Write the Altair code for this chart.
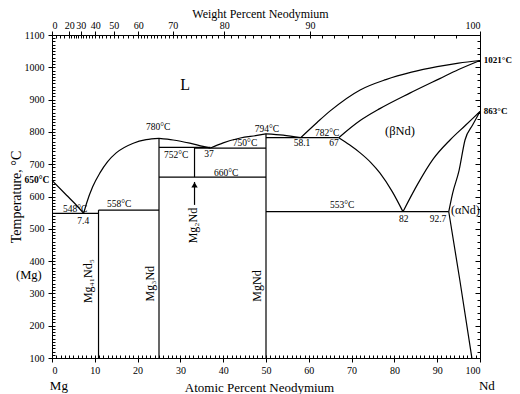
import altair as alt
import pandas as pd

M_MG, M_ND = 24.305, 144.24


def wt_to_at(w):
    if w >= 100:
        return 100.0
    n = w / M_ND
    m = (100 - w) / M_MG
    return 100 * n / (n + m)


# ---------------- phase boundaries (atomic % Nd, temperature °C) ----------------
liq_mg_x = [0, 3.4, 5.5, 7.4]
liq_mg_t = [650, 604, 576, 548]

liq_mg3nd_l_x = [7.4, 8.1, 9.5, 11.2, 13, 15, 19, 22, 25]
liq_mg3nd_l_t = [548, 580, 630, 673, 708, 735, 765, 776, 780]

liq_mg3nd_r_x = [25, 28.3, 32.2, 35.3, 37]
liq_mg3nd_r_t = [780, 775, 765, 755, 750]

liq_mgnd_l_x = [37, 40, 44, 47.9, 50]
liq_mgnd_l_t = [750, 766, 781, 789, 794]

liq_mgnd_r_x = [50, 54, 58.1]
liq_mgnd_r_t = [794, 790, 782]

liq_nd_x = [58.1, 62, 65, 72, 78, 84, 90, 95, 100]
liq_nd_t = [782, 830, 865, 930, 962, 985, 1002, 1013, 1021]

sol_bnd_x = [67, 72, 76.6, 83.6, 90.6, 95, 100]
sol_bnd_t = [782, 835, 872, 920, 965, 993, 1021]

bnd_left_x = [67, 69.5, 72, 74.5, 76.6, 79.5, 82]
bnd_left_t = [782, 760, 735, 705, 673, 615, 553]

bnd_right_x = [82, 85.5, 89, 93, 96.5, 100]
bnd_right_t = [553, 640, 715, 775, 819, 863]

and_upper_x = [92.7, 93.6, 95.1, 96.5, 98.3, 100]
and_upper_t = [553, 610, 680, 775, 822, 863]

and_solvus_x = [92.7, 95.3, 98.1]
and_solvus_t = [553, 340, 100]

# invariant lines, compounds and arrow shaft: (x1, x2, T1, T2)
straight = {
    "eut548": (0, 10.87, 548, 548),
    "per558": (10.87, 25, 558, 558),
    "mg41nd5": (10.87, 10.87, 100, 558),
    "mg3nd": (25, 25, 100, 780),
    "per752": (25, 37, 752, 752),
    "eut750": (33.3, 50, 750, 750),
    "mg2nd": (33.3, 33.3, 660, 752),
    "eutd660": (25, 50, 660, 660),
    "mgnd": (50, 50, 100, 794),
    "eut782": (50, 67, 782, 782),
    "eutd553": (50, 92.7, 553, 553),
    "arrow": (33.3, 33.3, 574, 645),
}

curves = {
    "liq_mg": (liq_mg_x, liq_mg_t),
    "liq_mg3nd_l": (liq_mg3nd_l_x, liq_mg3nd_l_t),
    "liq_mg3nd_r": (liq_mg3nd_r_x, liq_mg3nd_r_t),
    "liq_mgnd_l": (liq_mgnd_l_x, liq_mgnd_l_t),
    "liq_mgnd_r": (liq_mgnd_r_x, liq_mgnd_r_t),
    "liq_nd": (liq_nd_x, liq_nd_t),
    "sol_bnd": (sol_bnd_x, sol_bnd_t),
    "bnd_left": (bnd_left_x, bnd_left_t),
    "bnd_right": (bnd_right_x, bnd_right_t),
    "and_upper": (and_upper_x, and_upper_t),
    "and_solvus": (and_solvus_x, and_solvus_t),
}


def to_df(d):
    rows = []
    for seg, (xs_, ts_) in d.items():
        for i, (a, t) in enumerate(zip(xs_, ts_)):
            rows.append({"seg": seg, "i": i, "x": a, "T": t})
    return pd.DataFrame(rows)


curves_df = to_df(curves)
straight_df = to_df({k: ([v[0], v[1]], [v[2], v[3]]) for k, v in straight.items()})

# ---------------- labels ----------------
small_text = ["780°C", "752°C", "37", "750°C", "660°C", "794°C", "782°C", "58.1", "67",
              "553°C", "82", "92.7", "548°C", "7.4", "558°C"]
small_x = [24.8, 29.0, 36.7, 45.1, 40.7, 50.2, 64.3, 58.4, 65.9,
           67.8, 82.2, 90.2, 5.4, 7.3, 15.7]
small_t = [815, 728, 731, 766, 673, 809, 797, 766, 766,
           574, 530, 530, 561, 524, 577]

phase_text = ["(βNd)", "(Mg)"]
phase_x = [81.3, -5.4]
phase_t = [803, 357]

liquid_text = ["L"]
liquid_x = [31.1]
liquid_t = [945]

alpha_text = ["(αNd)"]
alpha_x = [93.2]
alpha_t = [558]

bold_right_text = ["1021°C", "863°C"]
bold_right_x = [100.9, 100.9]
bold_right_t = [1022, 864]

bold_left_text = ["650°C"]
bold_left_x = [-0.6]
bold_left_t = [650]

comp_text = ["Mg₄₁Nd₅", "Mg₃Nd", "Mg₂Nd", "MgNd"]
comp_x = [8.3, 22.9, 32.9, 47.9]
comp_t = [338, 330, 510, 323]

elem_text = ["Mg", "Nd"]
elem_x = [1.6, 101.6]
elem_t = [12, 12]

arrow_x = [33.3]
arrow_t = [636]

# ---------------- axis tick values ----------------
at_major = list(range(0, 101, 10))
at_minor = list(range(0, 101, 1))
t_major = list(range(100, 1101, 100))
t_minor_left = list(range(100, 1101, 10))
t_minor_right = list(range(100, 1101, 20))
wt_major = [0, 20, 30, 40, 50, 60, 70, 80, 90, 100]
wt_minor = [5, 10, 15] + list(range(20, 60, 2)) + list(range(60, 101, 1))

FONT = "Liberation Serif"
xs = alt.Scale(domain=[0, 100], nice=False, zero=False)
ys = alt.Scale(domain=[100, 1100], nice=False, zero=False)

frame_df = pd.DataFrame({"x": [0, 100], "T": [100, 1100]})

wt_expr = ("format(round(100*datum.value*144.24/(datum.value*144.24+(100-datum.value)*24.305)),'d')")

curve_lines = alt.Chart(curves_df).mark_line(
    color="black", strokeWidth=1.2, clip=False, interpolate="monotone"
).encode(
    x=alt.X("x:Q", scale=xs, axis=alt.Axis(
        orient="bottom", values=at_major, tickSize=4, labelFontSize=10, labelPadding=3,
        format="d", title="Atomic Percent Neodymium", titleFontSize=13,
        titleBaseline="alphabetic", titleY=33, titleX=207)),
    y=alt.Y("T:Q", scale=ys, axis=alt.Axis(
        orient="left", values=t_major, tickSize=4, labelFontSize=10, labelPadding=4,
        format="d", title="Temperature, °C", titleFontSize=14,
        titleBaseline="alphabetic", titleX=-32)),
    detail="seg:N",
    order="i:Q",
)

straight_lines = alt.Chart(straight_df).mark_line(
    color="black", strokeWidth=1.2, clip=False
).encode(
    x=alt.X("x:Q", scale=xs, axis=None),
    y=alt.Y("T:Q", scale=ys, axis=None),
    detail="seg:N",
    order="i:Q",
)

ax2 = alt.Chart(frame_df).mark_point(opacity=0).encode(
    x=alt.X("x:Q", scale=xs, axis=alt.Axis(
        orient="bottom", values=at_minor, tickSize={"expr": "-3"}, labels=False, title=None)),
    y=alt.Y("T:Q", scale=ys, axis=alt.Axis(
        orient="left", values=t_minor_left, tickSize={"expr": "-3"}, labels=False, title=None)),
)

ax3 = alt.Chart(frame_df).mark_point(opacity=0).encode(
    x=alt.X("x:Q", scale=xs, axis=alt.Axis(
        orient="top", values=[wt_to_at(w) for w in wt_major], tickSize=4, labelFontSize=10,
        labelPadding=1, labelExpr=wt_expr, title="Weight Percent Neodymium",
        titleFontSize=12, titleBaseline="alphabetic", titleY=-18, titleX=208)),
    y=alt.Y("T:Q", scale=ys, axis=alt.Axis(
        orient="right", values=t_minor_right, tickSize={"expr": "-3"}, labels=False, title=None)),
)

ax4 = alt.Chart(frame_df).mark_point(opacity=0).encode(
    x=alt.X("x:Q", scale=xs, axis=alt.Axis(
        orient="top", values=[wt_to_at(w) for w in wt_minor + wt_major], tickSize={"expr": "-3"},
        labels=False, title=None)),
    y=alt.Y("T:Q", scale=ys, axis=alt.Axis(
        orient="right", values=t_major, tickSize={"expr": "-5"}, labels=False, title=None)),
)


def text_layer(texts, xv, tv, size, align="center", weight="normal", angle=0):
    df = pd.DataFrame({"text": texts, "x": xv, "T": tv})
    return alt.Chart(df).mark_text(
        font=FONT, fontSize=size, align=align, baseline="middle", fontWeight=weight,
        angle=angle, color="black", clip=False,
    ).encode(
        x=alt.X("x:Q", scale=xs, axis=None),
        y=alt.Y("T:Q", scale=ys, axis=None),
        text="text:N",
    )


arrow = alt.Chart(pd.DataFrame({"x": arrow_x, "T": arrow_t})).mark_point(
    shape="triangle-up", filled=True, size=40, color="black", opacity=1
).encode(x=alt.X("x:Q", scale=xs, axis=None), y=alt.Y("T:Q", scale=ys, axis=None))

chart = alt.layer(
    curve_lines, straight_lines, ax2, ax3, ax4, arrow,
    text_layer(small_text, small_x, small_t, 9.5),
    text_layer(phase_text, phase_x, phase_t, 12.5),
    text_layer(liquid_text, liquid_x, liquid_t, 16),
    text_layer(alpha_text, alpha_x, alpha_t, 12, align="left"),
    text_layer(bold_right_text, bold_right_x, bold_right_t, 9, align="left", weight="bold"),
    text_layer(bold_left_text, bold_left_x, bold_left_t, 9.5, align="right", weight="bold"),
    text_layer(comp_text, comp_x, comp_t, 12, angle=270),
    text_layer(elem_text, elem_x, elem_t, 13),
).resolve_axis(x="independent", y="independent").properties(
    width=428, height=323, autosize=alt.AutoSizeParams(type="none"),
    padding={"left": 44, "top": 27, "right": 32, "bottom": 36},
).configure_view(stroke="black", strokeWidth=1).configure_axis(
    domain=False, grid=False, tickColor="black", labelColor="black", labelFont=FONT,
    titleFont=FONT, titleFontWeight="normal", titleColor="black", tickWidth=1,
)

chart.save("out.html", embed_options={"renderer": "svg", "actions": False})
